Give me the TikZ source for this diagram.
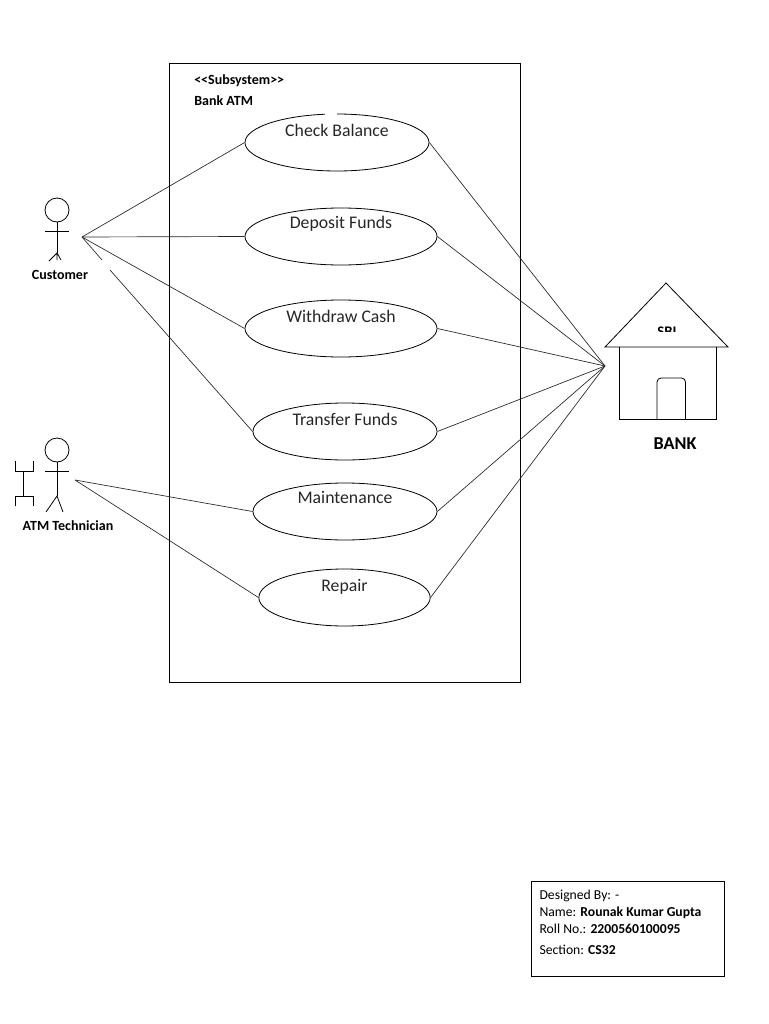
\documentclass[tikz,border=0pt]{standalone}
\usepackage{fontspec}
\setmainfont{Carlito}
\usetikzlibrary{shapes.geometric}
\tikzset{%
  % Specifications for style of nodes:
     usecase/.style = {ellipse, draw=black, line width=0.6pt, inner sep=0pt,
                       minimum height=42.75pt, text height=8pt, text depth=17pt,
                       text=black!85, font=\fontsize{13.3pt}{15pt}\selectfont},
  actorlabel/.style = {font=\fontsize{10.5pt}{12pt}\selectfont\bfseries, inner sep=0pt},
       thin/.style = {line width=0.6pt},
    connector/.style = {line width=0.5pt, black!85},
}

\begin{document}
\begin{tikzpicture}[x=0.75pt, y=-0.75pt]
  \useasboundingbox (0,0) rectangle (768,1024);

  % Subsystem boundary
  \draw[thin] (169,63) rectangle (520,682);
  \node (stereotype) [actorlabel, anchor=west] at (194,81)  {<{}<Subsystem>{}>};
  \node (systemName) [actorlabel, anchor=west] at (194,101) {Bank ATM};

  % Use cases
  \node (checkBalance) [usecase, minimum width=138pt]   at (337,142.5) {Check Balance};
  \node (depositFunds) [usecase, minimum width=144pt, text depth=20pt] at (341,236.5) {Deposit Funds};
  \node (withdrawCash) [usecase, minimum width=144pt]   at (341,328.5) {Withdraw Cash};
  \node (transferFunds) [usecase, minimum width=138pt]  at (345,431.5) {Transfer Funds};
  \node (maintenance)  [usecase, minimum width=138pt, text depth=20pt] at (345,511.5) {Maintenance};
  \node (repair)       [usecase, minimum width=128.5pt] at (344.5,597.5) {Repair};
  \draw[white, line width=1.5pt] (325,114) -- (337,114);

  % Customer
  \draw[thin] (57,210) circle (12);
  \draw[thin] (57,222) -- (57,253) (45,231) -- (69,231);
  \draw[thin] (49,261) -- (57,253) -- (57,260) (57,253) -- (61,260);
  \node (customer) [actorlabel] at (60,275) {Customer};
  \coordinate (customerHub) at (82,237);
  \coordinate (gapStart) at (102,260);
  \coordinate (gapEnd) at (110,270);

  % ATM Technician with tool
  \draw[thin] (57,450) circle (12);
  \draw[thin] (57,462) -- (57,496) (45,471) -- (69,471);
  \draw[thin] (46,512) -- (57,496) -- (63,512);
  \draw[thin] (15,461) -- (15,471) -- (33,471) -- (33,461);
  \draw[thin] (15,506) -- (15,496) -- (33,496) -- (33,506);
  \draw[thin] (23.5,471) -- (23.5,496);
  \node (technician) [actorlabel] at (68,525.5) {ATM Technician};
  \coordinate (technicianHub) at (75,480);

  % Bank building
  \coordinate (bankHub) at (605,366);
  \draw[thin] (605,347) -- (666,283) -- (728,347) -- cycle;
  \draw[thin] (619.5,347) -- (619.5,419) -- (716,419) -- (716,347);
  \draw[thin, rounded corners=3pt] (657,419) -- (657,378) -- (685.5,378) -- (685.5,419);
  \begin{scope}
    \clip (640,326.5) rectangle (700,331);
    \node (bankShort) [font=\fontsize{11pt}{13pt}\selectfont\bfseries, inner sep=0pt] at (667,332) {SBI};
  \end{scope}
  \node (bank) [font=\fontsize{13.6pt}{15pt}\selectfont\bfseries, inner sep=0pt] at (675,444) {BANK};

  % Lines between actors and use cases
  \draw[connector] (customerHub) -- (checkBalance.west);
  \draw[connector] (customerHub) -- (depositFunds.west);
  \draw[connector] (customerHub) -- (withdrawCash.west);
  \draw[connector] (customerHub) -- (gapStart);
  \draw[connector] (gapEnd) -- (transferFunds.west);
  \draw[connector] (technicianHub) -- (maintenance.west);
  \draw[connector] (technicianHub) -- (repair.west);
  \draw[connector] (checkBalance.east) -- (bankHub);
  \draw[connector] (depositFunds.east) -- (bankHub);
  \draw[connector] (withdrawCash.east) -- (bankHub);
  \draw[connector] (transferFunds.east) -- (bankHub);
  \draw[connector] (maintenance.east) -- (bankHub);
  \draw[connector] (repair.east) -- (bankHub);

  % Credits box
  \node (credits) [draw=black, thin, anchor=north west, align=flush left, inner xsep=6.5pt,
    inner ysep=6.75pt, text width=132pt, font=\fontsize{10.25pt}{12.75pt}\selectfont]
    at (530.5,881) {Designed By: -\\
      Name: \textbf{Rounak Kumar Gupta}\\
      Roll No.: \textbf{2200560100095}\\[3pt]
      Section: \textbf{CS32}\rule[-9pt]{0pt}{9pt}};
\end{tikzpicture}
\end{document}
